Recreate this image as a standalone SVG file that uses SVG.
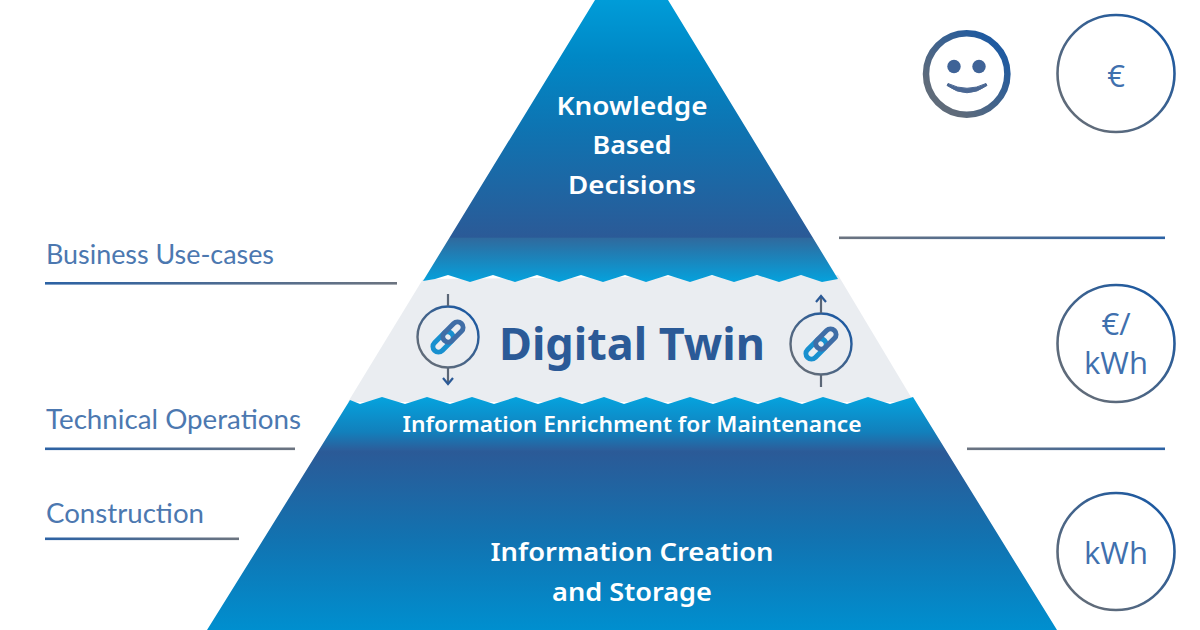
<svg xmlns="http://www.w3.org/2000/svg" width="1200" height="630" viewBox="0 0 1200 630">
<style>
.w{font-family:"Noto Sans","Liberation Sans",sans-serif;font-weight:600;fill:#fff;text-anchor:middle}
.l{font-family:"Lato","Liberation Sans",sans-serif;font-weight:400;fill:#4c78b0;font-size:26px}
.u{font-family:"Open Sans","Liberation Sans",sans-serif;font-weight:400;fill:#3f70ae;text-anchor:middle}
.r{stroke-width:2.600;fill:none}
</style>
<defs>
<linearGradient id="top" gradientUnits="userSpaceOnUse" x1="0" y1="0" x2="0" y2="283">
<stop offset="0" stop-color="#009cd8"/><stop offset=".2" stop-color="#0088c6"/><stop offset=".45" stop-color="#0e74b2"/><stop offset=".838" stop-color="#2b5a97"/><stop offset=".842" stop-color="#2f6a9e"/><stop offset="1" stop-color="#04a3de"/>
</linearGradient>
<linearGradient id="bot" gradientUnits="userSpaceOnUse" x1="0" y1="397" x2="0" y2="630">
<stop offset="0" stop-color="#05a3de"/><stop offset=".15" stop-color="#1280bc"/><stop offset=".225" stop-color="#2b5f9c"/><stop offset=".235" stop-color="#2b5a97"/><stop offset=".6" stop-color="#1272b0"/><stop offset="1" stop-color="#008fcf"/>
</linearGradient>
<linearGradient id="ln" x1="0" x2="1" y1="0" y2="0"><stop offset="0" stop-color="#2c62a4"/><stop offset="1" stop-color="#6c7480"/></linearGradient>
<linearGradient id="lr" x1="0" x2="1" y1="0" y2="0"><stop offset="0" stop-color="#6c7480"/><stop offset="1" stop-color="#2c62a4"/></linearGradient>
<linearGradient id="ci" x1="0" x2="1" y1="1" y2="0"><stop offset=".2" stop-color="#5f6b7a"/><stop offset=".85" stop-color="#1f5aa0"/></linearGradient>
<g id="link">
<g fill="none" stroke-width="5">
<rect x="-19" y="-5.500" width="24" height="11" rx="5.500" stroke="#1890cf" transform="rotate(-45)"/>
<rect x="-5" y="-5.500" width="24" height="11" rx="5.500" stroke="#3f6da6" transform="rotate(-45)"/>
</g>
</g>
</defs>
<g id="pyramid">
<path id="twin-band" fill="#eaedf1" d="M423 279L838 275L914 402L348 402Z"/>
<path id="apex" fill="url(#top)" d="M595 0H668L838 279L822 282L801 275L779 282L757 275L734 282L712 275L690 282L668 275L646 282L625 275L603 282L581 275L559 282L537 275L515 282L493 275L470 282L448 275L435 279L423 281Z"/>
<path id="base" fill="url(#bot)" d="M207 630L350 400L360 404L382 397L405 404L427 397L450 404L472 397L494 404L516 397L538 404L560 397L582 404L604 397L624 404L646 397L668 404L690 397L713 404L735 397L758 404L780 397L802 404L823 397L847 404L868 397L890 404L913 397L1057 630Z"/>
</g>
<g id="pyramid-labels">
<text class="w" x="632" y="115" font-size="26" textLength="151" lengthAdjust="spacingAndGlyphs">Knowledge</text>
<text class="w" x="632" y="154" font-size="26" textLength="79" lengthAdjust="spacingAndGlyphs">Based</text>
<text class="w" x="632" y="194" font-size="26" textLength="128" lengthAdjust="spacingAndGlyphs">Decisions</text>
<text x="632" y="360" font-family="Noto Sans,Liberation Sans,sans-serif" font-weight="700" font-size="44" fill="#2b5a97" text-anchor="middle" textLength="266" lengthAdjust="spacingAndGlyphs">Digital Twin</text>
<text class="w" x="632" y="432" font-size="21" textLength="459" lengthAdjust="spacingAndGlyphs">Information Enrichment for Maintenance</text>
<text class="w" x="632" y="561" font-size="26" textLength="283" lengthAdjust="spacingAndGlyphs">Information Creation</text>
<text class="w" x="632" y="601" font-size="26" textLength="160" lengthAdjust="spacingAndGlyphs">and Storage</text>
</g>
<g id="link-down">
<circle cx="448" cy="337" r="30.500" fill="none" stroke="url(#ci)" stroke-width="2.400"/>
<path d="M448 294V306M448 368V383" stroke="#5b6777" stroke-width="2.200" fill="none"/>
<path d="M443 378L448 384L453 378" stroke="#2b5a97" stroke-width="2.200" fill="none"/>
<use href="#link" x="448" y="337"/>
</g>
<g id="link-up">
<circle cx="821" cy="344" r="30.500" fill="none" stroke="url(#ci)" stroke-width="2.400"/>
<path d="M821 296V313M821 375V387" stroke="#5b6777" stroke-width="2.200" fill="none"/>
<path d="M816 302L821 296L826 302" stroke="#2b5a97" stroke-width="2.200" fill="none"/>
<use href="#link" x="821" y="344"/>
</g>
<g id="connectors" fill="none">
<rect x="45" y="282" width="352" height="2.600" fill="url(#ln)"/>
<rect x="45" y="447.500" width="250" height="2.600" fill="url(#ln)"/>
<rect x="45" y="537.500" width="194" height="2.600" fill="url(#ln)"/>
<rect x="839" y="236.500" width="326" height="2.600" fill="url(#lr)"/>
<rect x="967" y="447.500" width="198" height="2.600" fill="url(#lr)"/>
</g>
<g id="labels-left">
<text class="l" x="46" y="264" textLength="228" lengthAdjust="spacingAndGlyphs">Business Use-cases</text>
<text class="l" x="46" y="429" textLength="255" lengthAdjust="spacingAndGlyphs">Technical Operations</text>
<text class="l" x="46" y="523" textLength="158" lengthAdjust="spacingAndGlyphs">Construction</text>
</g>
<g id="smiley">
<circle cx="966.700" cy="74" r="40.700" fill="none" stroke="url(#ci)" stroke-width="6.500"/>
<circle cx="954" cy="66.500" r="6.700" fill="#3f6397"/><circle cx="979" cy="66.500" r="6.700" fill="#3f6397"/>
<path d="M948 83.500Q967 93 986 83.500L987 85.500Q967 100 947 85.500Z" fill="#4a6793" stroke="#4a6793" stroke-width="1" stroke-linejoin="round"/>
</g>
<g id="cost"><circle cx="1116" cy="73.500" r="58.500" class="r" stroke="url(#ci)"/><text class="u" x="1116" y="87" font-size="31">€</text></g>
<g id="cost-energy"><circle cx="1116" cy="343.500" r="58.500" class="r" stroke="url(#ci)"/><text class="u" x="1116" y="335" font-size="31">€/</text><text class="u" x="1116" y="374" font-size="31">kWh</text></g>
<g id="energy"><circle cx="1116" cy="551.500" r="58.500" class="r" stroke="url(#ci)"/><text class="u" x="1116" y="564" font-size="31">kWh</text></g>
</svg>
